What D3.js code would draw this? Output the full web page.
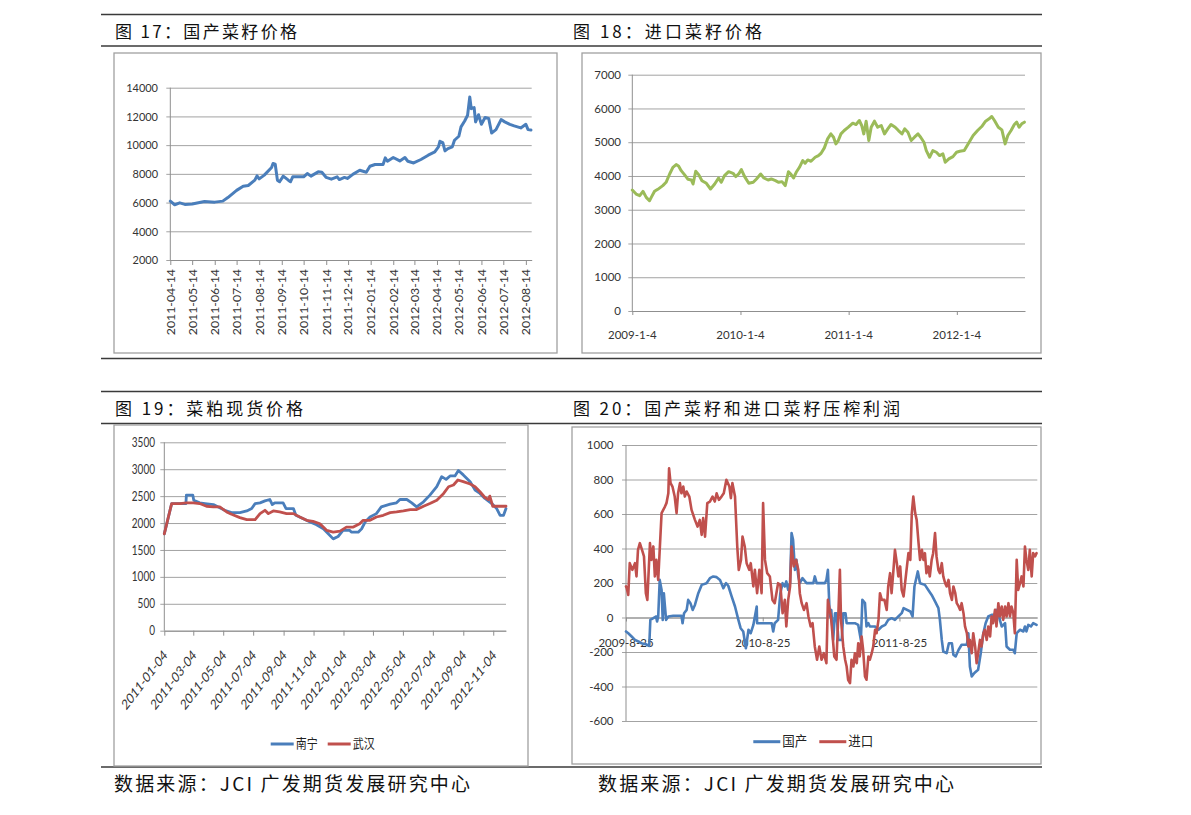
<!DOCTYPE html>
<html><head><meta charset="utf-8">
<script src="https://cdn.jsdelivr.net/npm/d3@7"></script>
<style>body{margin:0;background:#fff;}svg{display:block;}</style>
</head><body>
<svg id="c" width="1191" height="815"></svg>
<script>
// ---------------- DATA ----------------
const titles = ["图 17：国产菜籽价格", "图 18：进口菜籽价格", "图 19：菜粕现货价格", "图 20：国产菜籽和进口菜籽压榨利润"];
const sourceNote = "数据来源：JCI 广发期货发展研究中心";

// Fig 17 domestic rapeseed price
const dates17 = ["2011-04-14","2011-04-20","2011-04-27","2011-05-04","2011-05-14","2011-05-31","2011-06-14","2011-06-25","2011-07-02","2011-07-14","2011-07-23","2011-07-30","2011-08-08","2011-08-11","2011-08-14","2011-08-21","2011-08-31","2011-09-02","2011-09-05","2011-09-08","2011-09-11","2011-09-16","2011-09-23","2011-09-26","2011-09-29","2011-10-14","2011-10-19","2011-10-24","2011-11-03","2011-11-08","2011-11-14","2011-11-21","2011-11-29","2011-12-02","2011-12-09","2011-12-13","2011-12-21","2011-12-30","2012-01-08","2012-01-13","2012-01-20","2012-01-31","2012-02-03","2012-02-06","2012-02-14","2012-02-23","2012-03-01","2012-03-05","2012-03-13","2012-03-23","2012-04-02","2012-04-11","2012-04-16","2012-04-18","2012-04-22","2012-04-25","2012-04-29","2012-05-05","2012-05-08","2012-05-14","2012-05-17","2012-05-22","2012-05-26","2012-05-29","2012-05-31","2012-06-04","2012-06-06","2012-06-10","2012-06-14","2012-06-19","2012-06-24","2012-06-28","2012-07-04","2012-07-11","2012-07-16","2012-07-23","2012-07-29","2012-08-07","2012-08-14","2012-08-17","2012-08-21"];
const price17 = [6100,5850,5980,5870,5900,6080,6030,6100,6350,6850,7140,7190,7560,7860,7650,7910,8440,8720,8670,7560,7450,7840,7560,7450,7790,7790,8020,7840,8140,8110,7750,7630,7790,7600,7750,7680,7980,8250,8110,8530,8650,8650,9110,8880,9140,8900,9140,8880,8760,9000,9300,9530,9880,10270,10180,9600,9760,9880,10340,10620,11270,11680,12080,13350,12540,12610,11620,12120,11450,11920,11850,10850,11080,11780,11620,11450,11340,11200,11450,11080,11050];
const ticks17 = ["2011-04-14","2011-05-14","2011-06-14","2011-07-14","2011-08-14","2011-09-14","2011-10-14","2011-11-14","2011-12-14","2012-01-14","2012-02-14","2012-03-14","2012-04-14","2012-05-14","2012-06-14","2012-07-14","2012-08-14"];
const yTicks17 = [2000,4000,6000,8000,10000,12000,14000];

// Fig 18 imported rapeseed price
const dates18 = ["2009-01-04","2009-01-17","2009-01-29","2009-02-09","2009-02-20","2009-03-03","2009-03-09","2009-03-20","2009-03-31","2009-04-17","2009-04-28","2009-05-10","2009-05-21","2009-06-01","2009-06-09","2009-06-18","2009-06-29","2009-07-11","2009-07-22","2009-07-28","2009-08-06","2009-08-16","2009-08-27","2009-09-11","2009-09-25","2009-10-09","2009-10-22","2009-10-31","2009-11-11","2009-11-25","2009-12-10","2009-12-19","2009-12-29","2010-01-07","2010-01-18","2010-02-01","2010-02-16","2010-02-27","2010-03-13","2010-03-24","2010-04-07","2010-04-18","2010-05-02","2010-05-13","2010-05-24","2010-06-04","2010-06-15","2010-06-24","2010-07-02","2010-07-11","2010-07-22","2010-08-02","2010-08-10","2010-08-19","2010-08-30","2010-09-13","2010-09-24","2010-10-03","2010-10-14","2010-10-25","2010-11-05","2010-11-14","2010-11-22","2010-11-30","2010-12-09","2010-12-20","2011-01-03","2011-01-18","2011-01-29","2011-02-09","2011-02-17","2011-02-24","2011-03-04","2011-03-13","2011-03-21","2011-04-01","2011-04-12","2011-04-24","2011-05-05","2011-05-16","2011-05-27","2011-06-10","2011-06-21","2011-07-03","2011-07-12","2011-07-23","2011-08-03","2011-08-14","2011-08-26","2011-09-04","2011-09-15","2011-09-23","2011-10-04","2011-10-15","2011-10-27","2011-11-07","2011-11-18","2011-11-26","2011-12-08","2011-12-22","2012-01-03","2012-01-14","2012-01-29","2012-02-11","2012-02-28","2012-03-14","2012-03-28","2012-04-10","2012-04-22","2012-05-01","2012-05-10","2012-05-23","2012-06-04","2012-06-15","2012-06-24","2012-07-05","2012-07-16","2012-07-24","2012-08-01","2012-08-10","2012-08-19"];
const price18 = [3584,3465,3416,3545,3366,3267,3366,3545,3604,3713,3812,4059,4257,4336,4297,4158,4040,3901,3881,3762,4139,4040,3861,3782,3614,3762,3940,3812,4010,4128,4079,3980,4059,4188,3980,3782,3812,3911,4059,3940,3881,3911,3861,3812,3832,3713,4128,4040,3940,4109,4257,4455,4376,4475,4435,4554,4604,4673,4832,5099,5247,5148,4950,5049,5247,5346,5445,5564,5524,5643,5495,5247,5623,5049,5445,5623,5445,5495,5247,5396,5524,5445,5346,5247,5396,5297,5049,5148,5247,5148,5000,4752,4554,4752,4703,4604,4653,4406,4505,4574,4703,4733,4752,4950,5198,5346,5465,5623,5693,5762,5643,5445,5366,4950,5198,5346,5524,5594,5445,5544,5594];
const ticks18 = ["2009-1-4","2010-1-4","2011-1-4","2012-1-4"];
const yTicks18 = [0,1000,2000,3000,4000,5000,6000,7000];

// Fig 19 rapeseed meal spot price
const legend19 = ["南宁","武汉"];
const datesNanning = ["2011-01-04","2011-01-19","2011-02-05","2011-02-17","2011-02-18","2011-03-03","2011-03-05","2011-03-17","2011-03-28","2011-04-14","2011-04-24","2011-05-07","2011-05-21","2011-06-07","2011-06-21","2011-07-01","2011-07-08","2011-07-18","2011-07-28","2011-08-07","2011-08-12","2011-08-17","2011-09-03","2011-09-09","2011-09-24","2011-09-29","2011-10-14","2011-10-28","2011-11-10","2011-11-24","2011-12-04","2011-12-14","2011-12-24","2012-01-03","2012-01-17","2012-01-20","2012-02-03","2012-02-10","2012-02-17","2012-02-27","2012-03-11","2012-03-21","2012-04-08","2012-04-21","2012-04-28","2012-05-12","2012-05-22","2012-06-01","2012-06-15","2012-06-28","2012-07-12","2012-07-22","2012-07-31","2012-08-08","2012-08-18","2012-08-25","2012-09-04","2012-09-18","2012-09-28","2012-10-08","2012-10-18","2012-11-01","2012-11-11","2012-11-18","2012-11-25","2012-11-30"];
const nanning = [1800,2362,2362,2362,2519,2519,2425,2375,2362,2344,2300,2237,2194,2194,2225,2269,2362,2375,2412,2437,2344,2375,2375,2269,2269,2144,2081,2019,1969,1894,1800,1706,1750,1862,1862,1831,1831,1894,2019,2112,2175,2300,2350,2375,2437,2437,2375,2300,2394,2519,2675,2862,2812,2875,2875,2975,2894,2769,2612,2550,2456,2362,2269,2144,2144,2269];
const datesWuhan = ["2011-01-04","2011-01-19","2011-02-05","2011-02-18","2011-03-04","2011-03-17","2011-03-31","2011-04-14","2011-04-27","2011-05-11","2011-05-21","2011-06-07","2011-06-21","2011-07-08","2011-07-18","2011-07-28","2011-08-04","2011-08-14","2011-08-27","2011-09-10","2011-09-24","2011-10-07","2011-10-21","2011-11-03","2011-11-17","2011-12-01","2011-12-14","2011-12-28","2012-01-10","2012-01-24","2012-02-06","2012-02-13","2012-02-27","2012-03-11","2012-03-25","2012-04-08","2012-04-21","2012-05-05","2012-05-19","2012-06-01","2012-06-15","2012-06-28","2012-07-12","2012-07-26","2012-08-05","2012-08-15","2012-08-24","2012-09-04","2012-09-18","2012-09-28","2012-10-08","2012-10-18","2012-10-25","2012-10-28","2012-11-03","2012-11-30"];
const wuhan = [1800,2362,2362,2375,2375,2362,2312,2300,2300,2206,2162,2100,2062,2062,2175,2237,2175,2225,2206,2175,2175,2112,2050,2031,1987,1862,1831,1850,1925,1925,1987,2050,2050,2112,2144,2194,2206,2225,2250,2250,2312,2362,2425,2550,2675,2706,2800,2769,2725,2675,2581,2475,2437,2500,2312,2312];
const ticks19 = ["2011-01-04","2011-03-04","2011-05-04","2011-07-04","2011-09-04","2011-11-04","2012-01-04","2012-03-04","2012-05-04","2012-07-04","2012-09-04","2012-11-04"];
const yTicks19 = [0,500,1000,1500,2000,2500,3000,3500];

// Fig 20 crushing margin: domestic vs imported rapeseed
const legend20 = ["国产","进口"];
const datesDomestic = ["2009-08-25","2009-08-31","2009-09-09","2009-09-18","2009-09-27","2009-10-05","2009-10-17","2009-10-26","2009-10-29","2009-11-06","2009-11-13","2009-11-16","2009-11-19","2009-11-23","2009-11-28","2009-12-01","2009-12-04","2009-12-07","2009-12-10","2009-12-16","2009-12-29","2010-01-20","2010-01-23","2010-01-27","2010-02-03","2010-02-07","2010-02-13","2010-02-19","2010-02-25","2010-03-06","2010-03-15","2010-03-28","2010-04-06","2010-04-15","2010-04-24","2010-05-03","2010-05-12","2010-05-19","2010-05-25","2010-06-03","2010-06-12","2010-06-21","2010-06-27","2010-07-04","2010-07-11","2010-07-18","2010-07-24","2010-07-31","2010-08-09","2010-08-10","2010-08-22","2010-09-04","2010-09-18","2010-09-22","2010-09-26","2010-10-05","2010-10-11","2010-10-17","2010-10-23","2010-10-27","2010-11-01","2010-11-06","2010-11-10","2010-11-14","2010-11-19","2010-11-23","2010-11-28","2010-12-02","2010-12-09","2010-12-20","2011-01-07","2011-01-11","2011-01-16","2011-02-07","2011-02-11","2011-02-15","2011-02-20","2011-02-24","2011-03-01","2011-03-06","2011-03-10","2011-03-15","2011-03-24","2011-03-28","2011-04-03","2011-04-06","2011-04-28","2011-05-07","2011-05-14","2011-05-18","2011-05-25","2011-05-29","2011-06-03","2011-06-07","2011-06-21","2011-06-30","2011-07-09","2011-07-18","2011-07-26","2011-08-04","2011-08-13","2011-08-22","2011-08-31","2011-09-05","2011-09-23","2011-09-29","2011-10-04","2011-10-13","2011-10-19","2011-11-01","2011-11-10","2011-11-19","2011-11-28","2011-12-07","2011-12-11","2011-12-16","2011-12-20","2011-12-29","2012-01-04","2012-01-12","2012-01-16","2012-01-22","2012-01-30","2012-02-07","2012-02-21","2012-02-25","2012-02-29","2012-03-05","2012-03-12","2012-03-22","2012-03-29","2012-04-05","2012-04-11","2012-04-18","2012-04-27","2012-05-06","2012-05-10","2012-05-15","2012-05-19","2012-05-24","2012-06-02","2012-06-06","2012-06-15","2012-06-24","2012-06-28","2012-07-03","2012-07-12","2012-07-21","2012-07-25","2012-07-29","2012-08-03","2012-08-10","2012-08-16","2012-08-25"];
const domestic = [-81,-91,-110,-130,-139,-149,-155,-165,-14,-4,6,-23,6,218,160,-14,141,64,-14,6,10,10,-33,25,44,102,83,44,73,141,189,199,228,238,234,218,170,199,184,122,64,-14,-62,-81,-178,-71,-91,-43,64,-33,-33,-33,-33,-81,-33,-14,141,199,180,209,160,199,489,450,276,334,238,199,228,199,199,238,199,199,218,276,6,44,-130,25,25,-130,-130,25,25,-33,-33,-43,-130,102,83,-52,-33,-52,-52,-71,-52,-43,-14,-4,-14,6,25,54,35,6,180,267,199,189,160,131,93,54,-14,-130,-197,-207,-149,-149,-216,-226,-187,-158,-158,-91,-284,-342,-322,-303,-207,-91,-33,6,15,15,44,35,-14,-52,-33,-168,-187,-187,-207,-91,-71,-81,-52,-81,-43,-52,-33,-43];
const datesImported = ["2009-08-25","2009-08-27","2009-08-31","2009-09-04","2009-09-11","2009-09-18","2009-09-22","2009-09-26","2009-10-01","2009-10-08","2009-10-12","2009-10-17","2009-10-21","2009-10-28","2009-11-01","2009-11-06","2009-11-10","2009-11-14","2009-11-19","2009-11-23","2009-11-28","2009-12-07","2009-12-11","2009-12-16","2009-12-18","2009-12-22","2009-12-27","2010-01-02","2010-01-07","2010-01-11","2010-01-16","2010-01-20","2010-01-25","2010-01-29","2010-02-03","2010-02-10","2010-02-16","2010-02-25","2010-03-04","2010-03-10","2010-03-15","2010-03-19","2010-03-24","2010-03-30","2010-04-06","2010-04-13","2010-04-19","2010-04-24","2010-04-30","2010-05-07","2010-05-13","2010-05-20","2010-05-28","2010-06-01","2010-06-05","2010-06-12","2010-06-18","2010-06-22","2010-06-28","2010-07-02","2010-07-08","2010-07-13","2010-07-20","2010-07-24","2010-07-31","2010-08-04","2010-08-10","2010-08-16","2010-08-22","2010-08-26","2010-08-31","2010-09-06","2010-09-13","2010-09-20","2010-09-26","2010-10-05","2010-10-11","2010-10-17","2010-10-23","2010-10-27","2010-11-01","2010-11-06","2010-11-10","2010-11-16","2010-11-22","2010-11-28","2010-12-02","2010-12-07","2010-12-13","2010-12-20","2010-12-25","2010-12-31","2011-01-05","2011-01-11","2011-01-17","2011-01-23","2011-01-29","2011-02-04","2011-02-11","2011-02-15","2011-02-23","2011-02-27","2011-03-04","2011-03-10","2011-03-15","2011-03-19","2011-03-22","2011-03-28","2011-04-02","2011-04-06","2011-04-10","2011-04-15","2011-04-19","2011-04-24","2011-04-28","2011-05-03","2011-05-07","2011-05-11","2011-05-16","2011-05-20","2011-05-25","2011-05-29","2011-06-03","2011-06-07","2011-06-12","2011-06-16","2011-06-21","2011-06-25","2011-06-30","2011-07-04","2011-07-09","2011-07-16","2011-07-22","2011-07-26","2011-07-31","2011-08-04","2011-08-09","2011-08-13","2011-08-18","2011-08-22","2011-08-27","2011-08-31","2011-09-05","2011-09-09","2011-09-14","2011-09-18","2011-09-23","2011-09-27","2011-10-01","2011-10-06","2011-10-10","2011-10-15","2011-10-19","2011-10-24","2011-10-28","2011-11-01","2011-11-05","2011-11-10","2011-11-14","2011-11-19","2011-11-23","2011-11-28","2011-12-02","2011-12-07","2011-12-11","2011-12-16","2011-12-20","2011-12-25","2011-12-29","2012-01-03","2012-01-07","2012-01-12","2012-01-16","2012-01-21","2012-01-25","2012-01-30","2012-02-03","2012-02-07","2012-02-12","2012-02-16","2012-02-21","2012-02-25","2012-02-29","2012-03-05","2012-03-09","2012-03-14","2012-03-18","2012-03-22","2012-03-27","2012-03-31","2012-04-05","2012-04-09","2012-04-14","2012-04-18","2012-04-23","2012-04-27","2012-05-01","2012-05-06","2012-05-10","2012-05-15","2012-05-19","2012-05-24","2012-05-28","2012-06-02","2012-06-06","2012-06-11","2012-06-15","2012-06-19","2012-06-24","2012-06-28","2012-07-03","2012-07-07","2012-07-12","2012-07-16","2012-07-21","2012-07-25","2012-07-29","2012-08-03","2012-08-07","2012-08-12","2012-08-16","2012-08-21","2012-08-25"];
const imported = [180,170,131,315,276,315,238,392,431,383,354,141,102,431,334,412,238,334,218,392,605,643,663,720,865,779,759,701,605,720,779,720,759,701,730,701,624,566,527,566,479,576,469,663,672,701,672,720,682,701,720,798,759,692,779,701,412,276,334,469,412,315,276,315,180,276,141,276,141,663,334,257,238,102,83,199,189,25,102,-52,102,180,411,296,334,276,141,83,44,83,6,-52,-33,-168,-245,-168,-245,-207,-265,102,6,-91,-226,-245,25,276,-14,-168,-245,-284,-361,-381,-245,-284,-207,-265,-149,-226,-110,-187,-342,-361,-226,-245,-207,-168,-71,-91,-14,141,102,102,44,180,257,141,276,392,315,238,296,160,122,199,296,373,334,605,701,605,566,431,334,392,334,373,257,296,238,334,373,489,354,276,257,315,238,199,180,218,141,102,180,141,83,64,44,83,25,-52,-91,-168,-130,-207,-91,-168,-265,-207,-130,-168,-91,-71,-130,-52,-110,6,-33,44,-52,83,6,64,-14,64,6,83,6,64,25,-91,334,160,199,238,180,412,334,276,392,238,373,354,373];
const ticks20 = ["2009-8-25","2010-8-25","2011-8-25"];
const yTicks20 = [-600,-400,-200,0,200,400,600,800,1000];

// ---------------- DRAWING ----------------
const svg = d3.select("#c");
const parse = s => { const [y, m, d] = s.split("-").map(Number); return new Date(y, m - 1, d); };
const CJK = "'Noto Sans CJK SC', sans-serif";
const NUM = "Lato, 'Open Sans', sans-serif";
const BLUE = "#4a7ebb", RED = "#c0504d", GREEN = "#9bbb59";

function label(g, txt, x, y, o) {
  let tr = `translate(${x},${y})`;
  if (o.sy) tr += ` scale(1,${o.sy})`;
  if (o.rot) tr += ` rotate(${o.rot})`;
  return g.append("text").attr("transform", tr)
    .attr("text-anchor", o.anchor || "middle")
    .attr("dy", o.dy == null ? "0.35em" : o.dy)
    .style("font-family", o.font || NUM)
    .style("font-size", o.size + "px")
    .attr("fill", o.fill || "#333")
    .text(txt);
}

// page rules
[14.5, 46, 358.5, 391.5, 423.5, 767].forEach(yy =>
  svg.append("line").attr("x1", 101).attr("x2", 1042).attr("y1", yy).attr("y2", yy)
    .attr("stroke", "#3a3a3a").attr("stroke-width", 1.4));

// section titles
const titlePos = [[115, 37.5, 182], [573, 37.5, 189], [115, 414.5, 188], [573, 414.5, 327]];
titles.forEach((t, i) => {
  svg.append("text").attr("x", titlePos[i][0]).attr("y", titlePos[i][1])
    .attr("textLength", titlePos[i][2]).attr("lengthAdjust", "spacing")
    .style("font-family", CJK).style("font-size", "17px").attr("fill", "#111").text(t);
});
// source notes
[[114, 790.5], [598, 790.5]].forEach(p => {
  svg.append("text").attr("x", p[0]).attr("y", p[1])
    .attr("textLength", 356).attr("lengthAdjust", "spacing")
    .style("font-family", CJK).style("font-size", "19px").attr("fill", "#111").text(sourceNote);
});

function drawChart(c) {
  const g = svg.append("g");
  g.append("rect").attr("x", c.box[0]).attr("y", c.box[1])
    .attr("width", c.box[2] - c.box[0]).attr("height", c.box[3] - c.box[1])
    .attr("fill", "#fff").attr("stroke", "#a0a0a0").attr("stroke-width", 1.3);
  const x = d3.scaleTime().domain(c.xDomain.map(parse)).range([c.x0, c.x1]);
  const y = d3.scaleLinear().domain(c.yDomain).range([c.yB, c.yT]);

  // horizontal gridlines via y axis
  const ya = g.append("g").attr("transform", `translate(${c.x0},0)`)
    .call(d3.axisLeft(y).tickValues(c.yTicks).tickSize(-(c.x1 - c.x0)).tickSizeOuter(0).tickFormat(""));
  ya.select(".domain").remove();
  ya.selectAll(".tick line").attr("x1", -4).attr("stroke", "#a3a3a3").attr("stroke-width", 1);
  c.yTicks.forEach(v => label(g, String(v), c.yLabelX, y(v), { anchor: "end", size: c.ySize, sy: c.sy }));

  // x axis
  const xa = g.append("g").attr("transform", `translate(0,${y(c.xAxisAt)})`)
    .call(d3.axisBottom(x).tickValues(c.xTicks.map(parse)).tickSize(c.tickLen).tickSizeOuter(0).tickFormat(""));
  xa.select(".domain").attr("stroke", "#8f8f8f").attr("stroke-width", 1);
  xa.selectAll(".tick line").attr("stroke", "#8f8f8f");
  // y axis line
  g.append("line").attr("x1", c.x0).attr("x2", c.x0).attr("y1", c.yT).attr("y2", c.yB)
    .attr("stroke", "#8f8f8f").attr("stroke-width", 1);

  c.xTicks.forEach(t => {
    const tx = x(parse(t));
    label(g, t, tx + c.xl.dx, y(c.xAxisAt) + c.xl.dy, { anchor: c.xl.anchor, size: c.xl.size, rot: c.xl.rot, sy: c.sy });
  });

  // series
  const line = d3.line();
  c.series.forEach(s => {
    const pts = s.dates.map((d, i) => [x(parse(d)), y(s.values[i])]);
    g.append("path").attr("d", line(pts)).attr("fill", "none")
      .attr("stroke", s.color).attr("stroke-width", s.width)
      .attr("stroke-linejoin", "round").attr("stroke-linecap", "round");
  });

  // legend
  if (c.legend) {
    c.legend.items.forEach(it => {
      g.append("line").attr("x1", it.x).attr("x2", it.x + c.legend.len)
        .attr("y1", c.legend.y).attr("y2", c.legend.y)
        .attr("stroke", it.color).attr("stroke-width", 3);
      label(g, it.name, it.x + c.legend.len + 2, c.legend.y, { anchor: "start", size: c.legend.size, font: CJK, sy: c.legend.sy, fill: "#222" });
    });
  }
}

drawChart({
  box: [114, 53, 557, 353], x0: 170.3, x1: 531.7, yB: 260, yT: 87.7,
  xDomain: ["2011-04-14", "2012-08-22"], yDomain: [2000, 14000], yTicks: yTicks17,
  yLabelX: 158, ySize: 11, sy: 1.12, xAxisAt: 2000, xTicks: ticks17, tickLen: 5,
  xl: { dx: 0.5, dy: 9, anchor: "end", size: 11, rot: -90 },
  series: [{ dates: dates17, values: price17, color: BLUE, width: 3 }]
});

drawChart({
  box: [582, 53, 1041, 353], x0: 632.3, x1: 1025, yB: 311, yT: 74.7,
  xDomain: ["2009-01-04", "2012-08-21"], yDomain: [0, 7000], yTicks: yTicks18,
  yLabelX: 621, ySize: 11.5, sy: 1.05, xAxisAt: 0, xTicks: ticks18, tickLen: 4,
  xl: { dx: 0, dy: 24, anchor: "middle", size: 11.5, rot: 0 },
  series: [{ dates: dates18, values: price18, color: GREEN, width: 3 }]
});

drawChart({
  box: [114, 425, 528, 766], x0: 164.3, x1: 506, yB: 630.7, yT: 442.3,
  xDomain: ["2011-01-04", "2012-11-30"], yDomain: [0, 3500], yTicks: yTicks19,
  yLabelX: 155, ySize: 10, sy: 1.3, xAxisAt: 0, xTicks: ticks19, tickLen: 5,
  xl: { dx: 1, dy: 22, anchor: "end", size: 11, rot: -45 },
  series: [
    { dates: datesNanning, values: nanning, color: BLUE, width: 2.8 },
    { dates: datesWuhan, values: wuhan, color: RED, width: 2.8 }
  ],
  legend: { y: 744, len: 23, size: 11, sy: 1.15, items: [
    { x: 270.7, color: BLUE, name: legend19[0] },
    { x: 327.7, color: RED, name: legend19[1] }
  ] }
});

drawChart({
  box: [572, 427, 1041, 764], x0: 626, x1: 1037.3, yB: 721, yT: 445,
  xDomain: ["2009-08-25", "2012-08-27"], yDomain: [-600, 1000], yTicks: yTicks20,
  yLabelX: 613.5, ySize: 11.5, sy: 1.05, xAxisAt: 0, xTicks: ticks20, tickLen: 4,
  xl: { dx: 0, dy: 25, anchor: "middle", size: 11.5, rot: 0 },
  series: [
    { dates: datesDomestic, values: domestic, color: BLUE, width: 2.6 },
    { dates: datesImported, values: imported, color: RED, width: 2.6 }
  ],
  legend: { y: 741.7, len: 27, size: 12.5, sy: 1.05, items: [
    { x: 753.3, color: BLUE, name: legend20[0] },
    { x: 819.3, color: RED, name: legend20[1] }
  ] }
});
</script>
</body></html>
